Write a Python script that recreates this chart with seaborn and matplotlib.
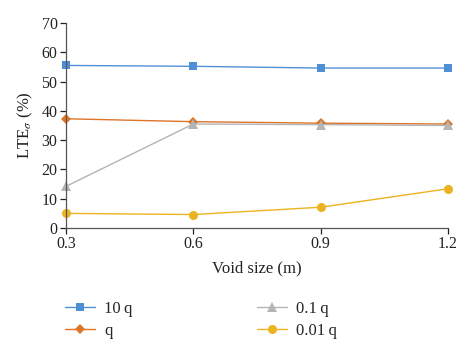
import pandas as pd
import numpy as np
import seaborn as sns
import matplotlib.pyplot as plt

# data
void_size = [0.3, 0.6, 0.9, 1.2]
lte_10q = [55.5, 55.2, 54.6, 54.6]
lte_q = [37.3, 36.3, 35.8, 35.5]
lte_01q = [14.2, 35.5, 35.3, 35.0]
lte_001q = [5.0, 4.6, 7.1, 13.4]
series_names = ['10q', 'q', '0.1q', '0.01q']
series_labels = ['10\u2009q', 'q', '0.1\u2009q', '0.01\u2009q']

df = pd.DataFrame({
    'void': void_size * 4,
    'lte': lte_10q + lte_q + lte_01q + lte_001q,
    'load': np.repeat(series_names, len(void_size)),
})

sns.set_style('white')
plt.rcParams['font.family'] = ['Liberation Serif', 'DejaVu Serif']
plt.rcParams['mathtext.fontset'] = 'stix'

colors = {'10q': '#4f8fd6', 'q': '#dd7428', '0.1q': '#b4b4b4', '0.01q': '#ecb320'}
markers = {'10q': 's', 'q': 'D', '0.1q': '^', '0.01q': 'o'}
sizes_m = {'10q': 6, 'q': 5, '0.1q': 6.5, '0.01q': 6.5}

fig = plt.figure(figsize=(4.74, 3.53), dpi=100)
ax = fig.add_axes([0.139, 0.354, 0.806, 0.581])

for name, lab in zip(series_names, series_labels):
    sub = df[df['load'] == name]
    sns.lineplot(data=sub, x='void', y='lte', ax=ax, color=colors[name],
                 marker=markers[name], markersize=sizes_m[name],
                 markeredgewidth=0, linewidth=1.0, label=lab, clip_on=False)

ax.set_xlim(0.3, 1.2)
ax.set_ylim(0, 70)
ax.set_xticks(void_size)
ax.set_xticklabels(['0.3', '0.6', '0.9', '1.2'])
ax.set_yticks(range(0, 71, 10))
ax.set_xlabel('Void size (m)', fontsize=12, color='#222222', labelpad=6)
ax.set_ylabel(r'LTE$_{\sigma}$ (%)', fontsize=12, color='#222222', labelpad=5)
ax.tick_params(axis='both', labelsize=11.5, colors='#222222', direction='out',
               length=4, width=0.9, left=True, bottom=True, pad=2)
sns.despine(ax=ax)
for s in ['left', 'bottom']:
    ax.spines[s].set_color('#555555')
    ax.spines[s].set_linewidth(0.9)

handles, labels = ax.get_legend_handles_labels()
ax.get_legend().remove()
fig.legend(handles, labels, ncol=2, loc='upper left', bbox_to_anchor=(0.105, 0.19),
           frameon=False, fontsize=12, handlelength=1.8, columnspacing=7.5,
           labelspacing=0.35, handletextpad=0.55)

fig.savefig('out.png', dpi=100)
